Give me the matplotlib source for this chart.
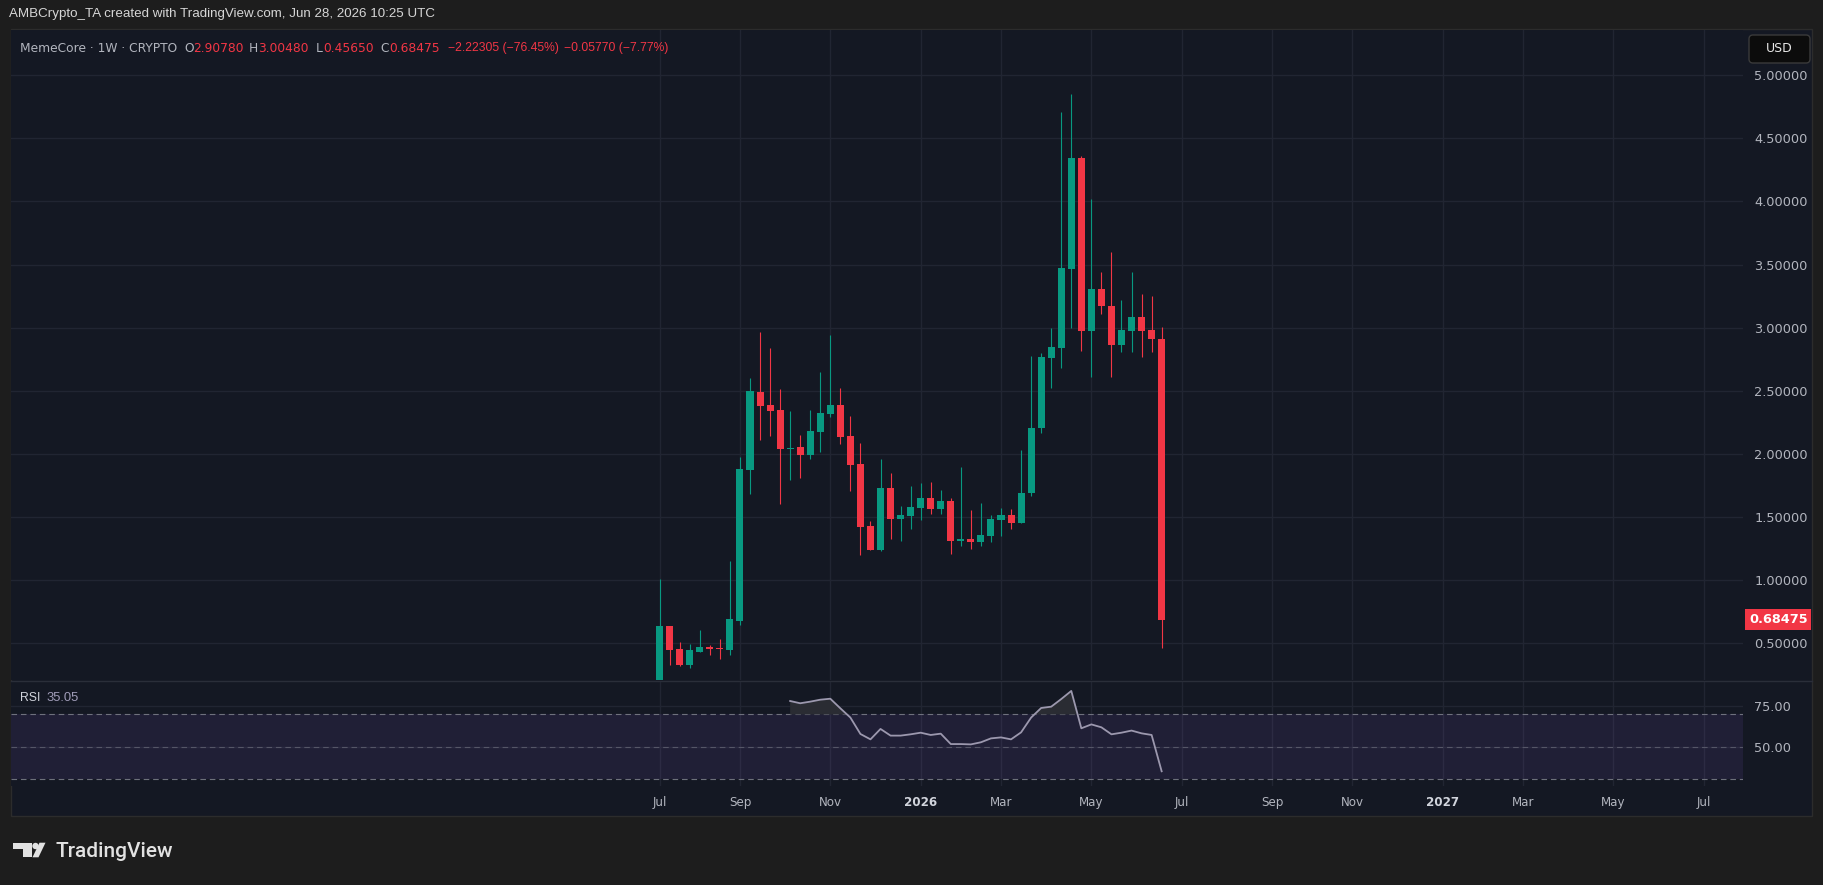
import numpy as np
import pandas as pd
import matplotlib
matplotlib.use("Agg")
import matplotlib.pyplot as plt
from matplotlib.patches import Rectangle, Circle, Polygon, FancyBboxPatch
from matplotlib.transforms import IdentityTransform

W, H = 1824, 885

# Weekly MemeCore candles, first bar = week of 2025-07-07
start_week = "2025-07-07"
opens = [0.15, 0.63, 0.447, 0.32, 0.431, 0.463, 0.455, 0.439, 0.669, 1.868,
         2.487, 2.384, 2.344, 2.034, 2.050, 1.987, 2.169, 2.312, 2.384, 2.138,
         1.915, 1.423, 1.233, 1.725, 1.479, 1.503, 1.566, 1.646, 1.558, 1.622,
         1.304, 1.320, 1.296, 1.344, 1.471, 1.511, 1.447, 1.685, 2.201, 2.758,
         2.840, 3.467, 4.343, 2.976, 3.306, 3.168, 2.865, 2.976, 3.086, 2.982,
         2.9078]
highs = [1.005, 0.637, 0.503, 0.487, 0.598, 0.479, 0.534, 1.145, 1.971, 2.598,
         2.963, 2.836, 2.511, 2.336, 2.146, 2.344, 2.646, 2.939, 2.519, 2.296,
         2.082, 1.463, 1.955, 1.844, 1.582, 1.741, 1.765, 1.772, 1.709, 1.646,
         1.892, 1.550, 1.606, 1.511, 1.566, 1.558, 2.030, 2.778, 2.800, 2.998,
         4.711, 4.853, 4.358, 4.018, 3.442, 3.602, 3.220, 3.442, 3.268, 3.253,
         3.0048]
lows = [0.12, 0.32, 0.315, 0.304, 0.431, 0.40, 0.368, 0.40, 0.638, 1.677,
        2.106, 2.138, 1.598, 1.788, 1.804, 1.955, 2.011, 2.288, 2.074, 1.701,
        1.193, 1.233, 1.225, 1.320, 1.304, 1.399, 1.471, 1.519, 1.519, 1.201,
        1.265, 1.241, 1.265, 1.296, 1.344, 1.399, 1.447, 1.663, 2.160, 2.522,
        2.680, 2.998, 2.815, 2.610, 3.105, 2.610, 2.805, 2.805, 2.765, 2.805,
        0.4565]
closes = [0.63, 0.439, 0.32, 0.439, 0.463, 0.447, 0.447, 0.685, 1.876, 2.495,
          2.376, 2.336, 2.034, 2.042, 1.987, 2.177, 2.320, 2.384, 2.130, 1.907,
          1.415, 1.233, 1.725, 1.479, 1.511, 1.574, 1.646, 1.558, 1.622, 1.304,
          1.320, 1.296, 1.352, 1.479, 1.511, 1.447, 1.688, 2.204, 2.765, 2.846,
          3.476, 4.343, 2.976, 3.306, 3.168, 2.865, 2.982, 3.086, 2.976, 2.9078,
          0.68475]

# RSI(14), first value on bar 13
rsi_start = 13
rsi_values = [78.3, 76.9, 77.9, 79.1, 79.7, 73.8, 68.1, 58.0, 54.7, 61.1,
              57.0, 57.0, 57.8, 58.8, 57.4, 58.2, 51.8, 51.8, 51.6, 52.9,
              55.3, 55.9, 54.7, 59.0, 68.1, 74.0, 74.8, 79.5, 84.5, 61.5,
              63.9, 62.1, 57.8, 58.8, 60.1, 58.4, 57.4, 35.05]

price_ticks = [0.5, 1.0, 1.5, 2.0, 2.5, 3.0, 3.5, 4.0, 4.5, 5.0]
rsi_ticks = [50, 75]
rsi_levels = [70, 50, 30]
day_change = -0.05770
day_pct = -7.77

BG_OUT = "#1d1d1d"
BG = "#141823"
GRID = "#212532"
UP = "#089981"
DOWN = "#f23645"
TXT = "#b2b5be"
UI_FONT = ["Liberation Sans", "DejaVu Sans"]


def fx(px):
    return px / W


def fy(py):
    return 1 - py / H


opens = np.array(opens)
highs = np.array(highs)
lows = np.array(lows)
closes = np.array(closes)
idx = np.arange(len(closes))

fig = plt.figure(figsize=(W / 100, H / 100), dpi=100, facecolor=BG_OUT)
fig.patches.append(Rectangle((fx(11), fy(816)), fx(1812) - fx(11), fy(29) - fy(816),
                             transform=fig.transFigure, facecolor=BG,
                             edgecolor="#2c2c2c", lw=1, zorder=-5))

ax = fig.add_axes([fx(11), fy(680), fx(1743) - fx(11), fy(30) - fy(680)])
axr = fig.add_axes([fx(11), fy(786), fx(1743) - fx(11), fy(681) - fy(786)])
for a in (ax, axr):
    a.set_facecolor(BG)
    for s in a.spines.values():
        s.set_visible(False)
    a.set_xlim(-64.6, 107.9)

# month ticks at the first weekly bar of every odd month
weeks = pd.date_range(start_week, periods=110, freq="7D")
tick_pos, tick_lab = [], []
prev = None
for i, d in enumerate(weeks):
    key = (d.year, d.month)
    if key != prev and d.month % 2 == 1:
        tick_pos.append(i)
        tick_lab.append(str(d.year) if d.month == 1 else d.strftime("%b"))
    prev = key

# price pane
ax.set_ylim(0.205, 5.36)
ax.set_xticks(tick_pos)
ax.tick_params(axis="x", labelbottom=False, length=0)
ax.yaxis.tick_right()
ax.set_yticks(price_ticks)
ax.set_yticklabels([f"{v:.5f}" for v in price_ticks])
ax.tick_params(axis="y", length=0, pad=8, labelcolor=TXT, labelsize=9.3)
ax.grid(True, color=GRID, lw=1)
ax.set_axisbelow(True)

colors = [UP if c >= o else DOWN for o, c in zip(opens, closes)]
ax.vlines(idx, lows, highs, colors=colors, lw=0.8, zorder=3)
bottoms = np.minimum(opens, closes)
heights = np.maximum(np.abs(closes - opens), 0.012)
ax.bar(idx, heights, bottom=bottoms, width=0.7, color=colors, linewidth=0, zorder=4)

# last price label
ax.text(1 + 6 / 1732, closes[-1], f"{closes[-1]:.5f}", transform=ax.get_yaxis_transform(),
        ha="left", va="center", color="white", fontsize=9.3, fontweight="bold",
        bbox=dict(boxstyle="square,pad=0.3", fc=DOWN, ec="none"), clip_on=False, zorder=6)

# RSI pane
rsi_x = np.arange(rsi_start, rsi_start + len(rsi_values))
rsi = np.array(rsi_values)
axr.set_ylim(26.0, 90.6)
axr.axhspan(rsi_levels[-1], rsi_levels[0], color="#7e57c2", alpha=0.12, lw=0, zorder=1)
axr.yaxis.tick_right()
axr.set_yticks(rsi_ticks)
axr.set_yticklabels([f"{v:.2f}" for v in rsi_ticks])
axr.tick_params(axis="y", length=0, pad=8, labelcolor=TXT, labelsize=9.3)
axr.set_xticks(tick_pos)
axr.set_xticklabels(tick_lab)
axr.tick_params(axis="x", length=0, pad=7, labelcolor=TXT, labelsize=8.6)
for lab in axr.get_xticklabels():
    if lab.get_text().isdigit():
        lab.set_fontweight("bold")
        lab.set_color("#d1d4dc")
axr.grid(True, color=GRID, lw=1)
axr.set_axisbelow(True)
for lv in rsi_levels:
    axr.axhline(lv, color="#787b86", lw=0.8, dashes=(5, 3.5),
                alpha=0.55 if lv == 50 else 0.9, zorder=2)
axr.fill_between(rsi_x, rsi, rsi_levels[0], where=rsi > rsi_levels[0], interpolate=True,
                 color="#2a2c33", lw=0, zorder=2)
axr.plot(rsi_x, rsi, color="#9c98ae", lw=1.3, zorder=3)

# pane separator
fig.add_artist(plt.Line2D([fx(11), fx(1812)], [fy(680.5), fy(680.5)],
                          transform=fig.transFigure, color="#2a2e39", lw=1, zorder=5))

# header and legend texts
fig.text(fx(9), fy(14), "AMBCrypto_TA created with TradingView.com, Jun 28, 2026 10:25 UTC",
         color="#d6d6d6", fontsize=9.65, family=UI_FONT, va="center")
leg_y = fy(48)
chg = closes[-1] - closes[-2]
pct = chg / closes[-2] * 100
leg_kw = dict(fontsize=8.8, va="center")
fig.text(fx(20), leg_y, "MemeCore · 1W · CRYPTO", color=TXT, **leg_kw)
for lx, letter, val in [(184, "O", opens[-1]), (249, "H", highs[-1]),
                        (316, "L", lows[-1]), (380, "C", closes[-1])]:
    fig.text(fx(lx), leg_y, letter, color=TXT, **leg_kw)
    fig.text(fx(lx + (7 if letter == "L" else 9)), leg_y, f"{val:.5f}", color=DOWN, **leg_kw)
chg_kw = dict(fontsize=8.7, family=UI_FONT, va="center")
fig.text(fx(448), leg_y, f"{chg:.5f} ({pct:.2f}%)".replace("-", "\u2212"),
         color=DOWN, **chg_kw)
fig.text(fx(564), leg_y, f"{day_change:.5f} ({day_pct:.2f}%)".replace("-", "\u2212"),
         color=DOWN, **chg_kw)

fig.text(fx(20), fy(698), "RSI", color="#d1d4dc", fontsize=8.8, family=UI_FONT, va="center")
fig.text(fx(46.5), fy(698), f"{rsi[-1]:.2f}", color="#a09cb8", fontsize=9.4, family=UI_FONT,
         va="center")

# USD box
fig.add_artist(FancyBboxPatch((1749, H - 63), 61, 28, boxstyle="round,pad=0,rounding_size=4",
                              transform=IdentityTransform(), fc="#0c0c0c", ec="#3a3a3a", lw=1))
fig.text(fx(1779.5), fy(49), "USD", color="#e8e8e8", fontsize=9, ha="center", va="center")

# TradingView logo
logo = "#e2e2e2"
fig.add_artist(Polygon([(13.3, H - 842.7), (31.7, H - 842.7), (31.7, H - 857.3),
                        (22.7, H - 857.3), (22.7, H - 849.3), (13.3, H - 849.3)],
                       closed=True, transform=IdentityTransform(), fc=logo, ec="none"))
fig.add_artist(Circle((35.5, H - 846), 3.2, transform=IdentityTransform(), fc=logo, ec="none"))
fig.add_artist(Polygon([(39.5, H - 842.7), (45.5, H - 842.7), (38.5, H - 857.3), (32.5, H - 857.3)],
                       closed=True, transform=IdentityTransform(), fc=logo, ec="none"))
fig.text(fx(56), fy(857.3), "TradingView", color=logo, fontsize=15, family="Roboto",
         fontweight="medium", va="baseline")

fig.savefig("out.png", dpi=100, facecolor=BG_OUT)
